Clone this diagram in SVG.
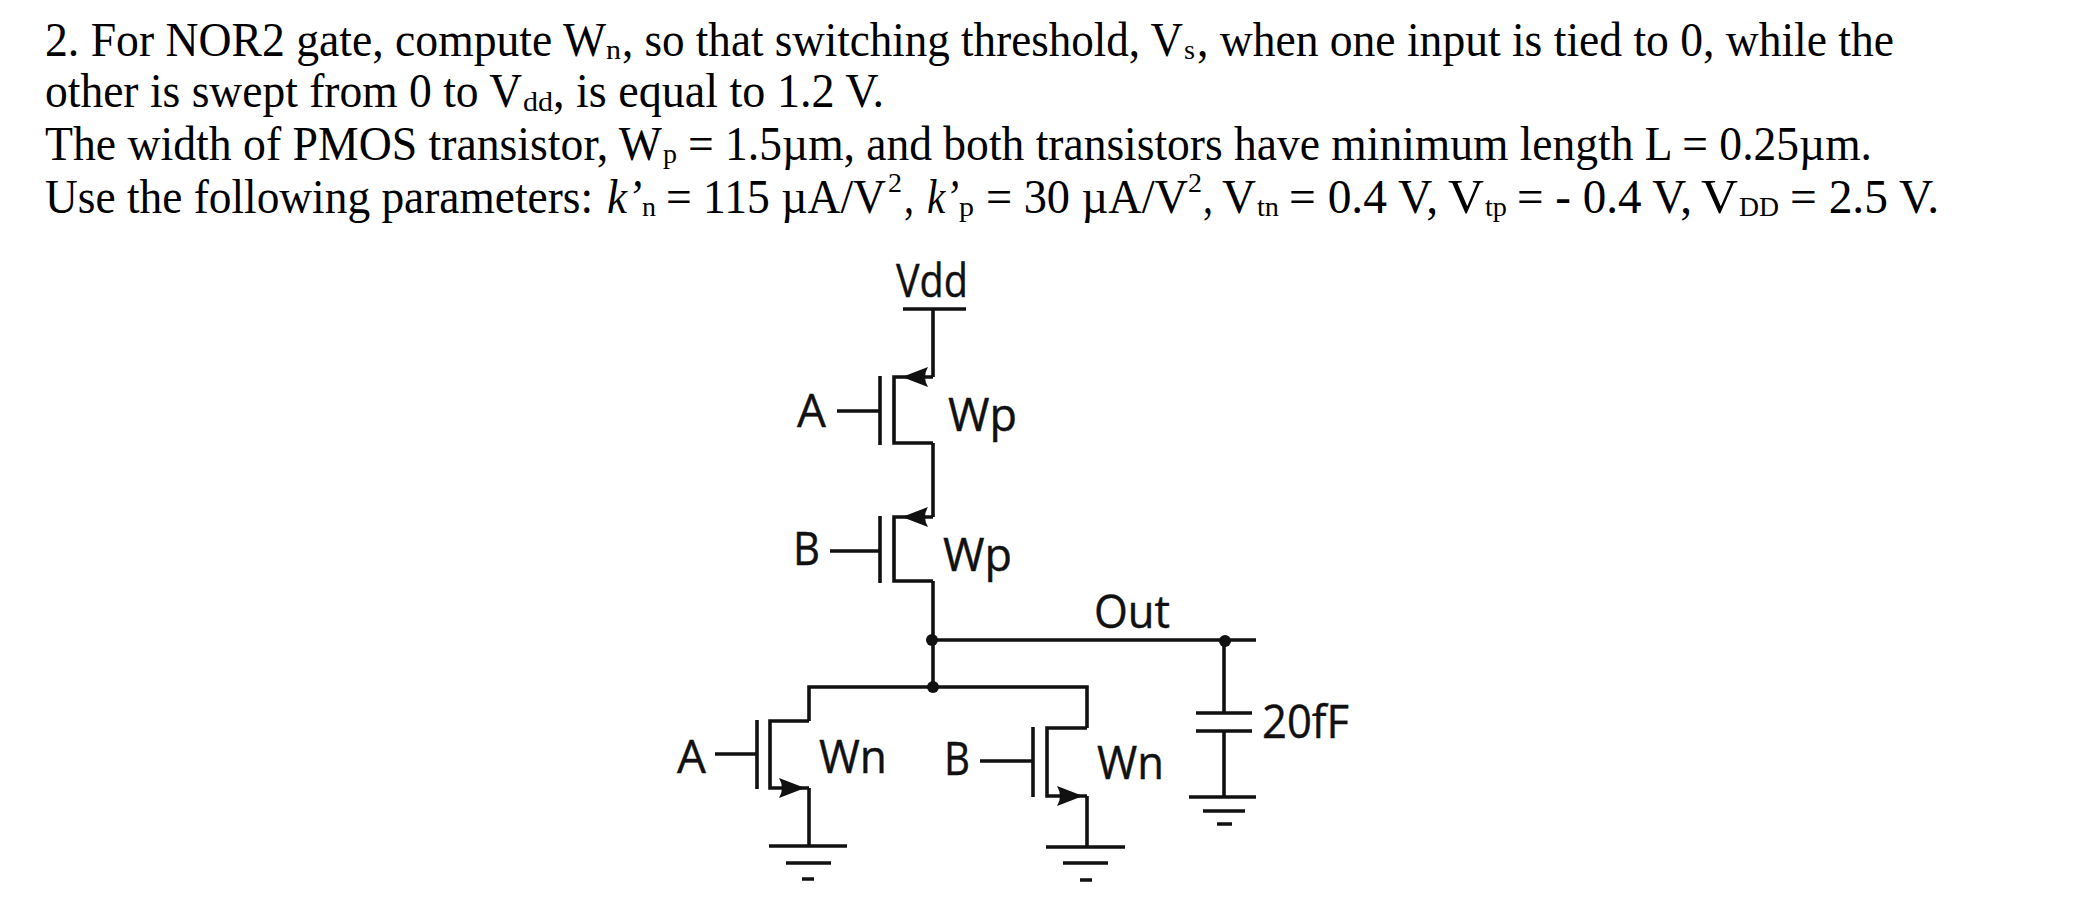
<svg xmlns="http://www.w3.org/2000/svg" width="2086" height="908" viewBox="0 0 2086 908">
<defs><style>
.t{font-family:"Liberation Serif","Times New Roman",serif;font-size:48px;fill:#000}
.s{font-size:28px}
.i{font-style:italic}
.l{font-family:"Open Sans","Noto Sans",sans-serif;font-size:45px;fill:#111;stroke:#111;stroke-width:.4}
.w{fill:none;stroke:#111;stroke-width:3.6;stroke-linecap:butt;stroke-linejoin:miter}
.a{fill:#111;stroke:none}
</style>
<path id="pa" d="M0 0L26 -10Q20 0 26 10Z"/>
</defs>
<rect width="2086" height="908" fill="#fff"/>
<g id="problem-text">
<text class="t" x="45" y="55.5" textLength="561" lengthAdjust="spacingAndGlyphs">2. For NOR2 gate, compute W</text>
<text class="t s" x="606" y="59" textLength="15" lengthAdjust="spacingAndGlyphs">n</text>
<text class="t" x="622" y="55.5" textLength="561" lengthAdjust="spacingAndGlyphs">, so that switching threshold, V</text>
<text class="t s" x="1184" y="59" textLength="11" lengthAdjust="spacingAndGlyphs">s</text>
<text class="t" x="1197" y="55.5" textLength="697" lengthAdjust="spacingAndGlyphs">, when one input is tied to 0, while the</text>

<text class="t" x="45" y="107" textLength="477" lengthAdjust="spacingAndGlyphs">other is swept from 0 to V</text>
<text class="t s" x="523" y="111" textLength="30" lengthAdjust="spacingAndGlyphs">dd</text>
<text class="t" x="553" y="107" textLength="331" lengthAdjust="spacingAndGlyphs">, is equal to 1.2 V.</text>

<text class="t" x="45" y="159.5" textLength="617" lengthAdjust="spacingAndGlyphs">The width of PMOS transistor, W</text>
<text class="t s" x="663" y="163" textLength="14" lengthAdjust="spacingAndGlyphs">p</text>
<text class="t" x="688" y="159.5" textLength="1184" lengthAdjust="spacingAndGlyphs">= 1.5µm, and both transistors have minimum length L = 0.25µm.</text>

<text class="t" x="45" y="212.5" textLength="548" lengthAdjust="spacingAndGlyphs">Use the following parameters:</text>
<text class="t i" x="607" y="212.5" textLength="35" lengthAdjust="spacingAndGlyphs">k’</text>
<text class="t s" x="642" y="216" textLength="14" lengthAdjust="spacingAndGlyphs">n</text>
<text class="t" x="666" y="212.5" textLength="220" lengthAdjust="spacingAndGlyphs">= 115 µA/V</text>
<text class="t s" x="888" y="192" textLength="14" lengthAdjust="spacingAndGlyphs">2</text>
<text class="t" x="904" y="212.5" textLength="10" lengthAdjust="spacingAndGlyphs">,</text>
<text class="t i" x="927" y="212.5" textLength="32" lengthAdjust="spacingAndGlyphs">k’</text>
<text class="t s" x="959" y="216" textLength="15" lengthAdjust="spacingAndGlyphs">p</text>
<text class="t" x="986" y="212.5" textLength="202" lengthAdjust="spacingAndGlyphs">= 30 µA/V</text>
<text class="t s" x="1188" y="192" textLength="14" lengthAdjust="spacingAndGlyphs">2</text>
<text class="t" x="1203" y="212.5" textLength="10" lengthAdjust="spacingAndGlyphs">,</text>
<text class="t" x="1222" y="212.5" textLength="34" lengthAdjust="spacingAndGlyphs">V</text>
<text class="t s" x="1257" y="216" textLength="22" lengthAdjust="spacingAndGlyphs">tn</text>
<text class="t" x="1289" y="212.5" textLength="149" lengthAdjust="spacingAndGlyphs">= 0.4 V,</text>
<text class="t" x="1448" y="212.5" textLength="36" lengthAdjust="spacingAndGlyphs">V</text>
<text class="t s" x="1485" y="216" textLength="22" lengthAdjust="spacingAndGlyphs">tp</text>
<text class="t" x="1517" y="212.5" textLength="175" lengthAdjust="spacingAndGlyphs">= - 0.4 V,</text>
<text class="t" x="1701" y="212.5" textLength="37" lengthAdjust="spacingAndGlyphs">V</text>
<text class="t s" x="1739" y="216" textLength="40" lengthAdjust="spacingAndGlyphs">DD</text>
<text class="t" x="1790" y="212.5" textLength="149" lengthAdjust="spacingAndGlyphs">= 2.5 V.</text>
</g>
<g id="connectors">
<path class="w" d="M903 309H966M933 309V377"/>
<path class="w" d="M933 443V517"/>
<path class="w" d="M933 581V687"/>
<path class="w" d="M809 721V687H1087V728"/>
<path class="w" d="M809 788V846"/>
<path class="w" d="M1087 796V847"/>
<path class="w" d="M933 640H1256"/>
<path class="w" d="M1224 640V713M1224 731V797"/>
<circle class="a" cx="932" cy="640" r="6"/>
<circle class="a" cx="933" cy="687" r="6"/>
<circle class="a" cx="1225" cy="641" r="6"/>
</g>
<g id="vdd"><text class="l" x="896" y="297" textLength="72" lengthAdjust="spacingAndGlyphs">Vdd</text></g>
<g id="pmos-a">
<path class="w" d="M933 377H894V443H933"/><path class="w" d="M880 376V445M837 411H880"/>
<use href="#pa" class="a" x="902" y="377"/>
<text class="l" x="797" y="427" textLength="29" lengthAdjust="spacingAndGlyphs">A</text>
<text class="l" x="948" y="431" textLength="69" lengthAdjust="spacingAndGlyphs">Wp</text>
</g>
<g id="pmos-b">
<path class="w" d="M933 517H894V581H933"/><path class="w" d="M880 516V583M830 551H880"/>
<use href="#pa" class="a" x="902" y="517"/>
<text class="l" x="793" y="565" textLength="27" lengthAdjust="spacingAndGlyphs">B</text>
<text class="l" x="943" y="571" textLength="69" lengthAdjust="spacingAndGlyphs">Wp</text>
</g>
<g id="nmos-a">
<path class="w" d="M809 721H770V788H809"/><path class="w" d="M757 720V789M715 754H757"/>
<use href="#pa" class="a" transform="translate(805 788) scale(-1 1)"/>
<text class="l" x="677" y="773" textLength="29" lengthAdjust="spacingAndGlyphs">A</text>
<text class="l" x="819" y="773" textLength="68" lengthAdjust="spacingAndGlyphs">Wn</text>
</g>
<g id="nmos-b">
<path class="w" d="M1087 728H1047V796H1087"/><path class="w" d="M1033 727V797M980 761H1033"/>
<use href="#pa" class="a" transform="translate(1083 796) scale(-1 1)"/>
<text class="l" x="944" y="775" textLength="26" lengthAdjust="spacingAndGlyphs">B</text>
<text class="l" x="1097" y="779" textLength="67" lengthAdjust="spacingAndGlyphs">Wn</text>
</g>
<g id="ground-a"><path class="w" d="M769 846H847M786 863H831M802 879H814"/></g>
<g id="ground-b"><path class="w" d="M1046 847H1125M1063 863H1108M1080 880H1092"/></g>
<g id="out-label"><text class="l" x="1094" y="628" textLength="76" lengthAdjust="spacingAndGlyphs">Out</text></g>
<g id="capacitor">
<path class="w" d="M1196 713H1252M1196 731H1252"/>
<text class="l" x="1262" y="738" textLength="87" lengthAdjust="spacingAndGlyphs">20fF</text>
</g>
<g id="ground-c"><path class="w" d="M1189 797H1256M1203 811H1245M1217 824H1232"/></g>
</svg>
